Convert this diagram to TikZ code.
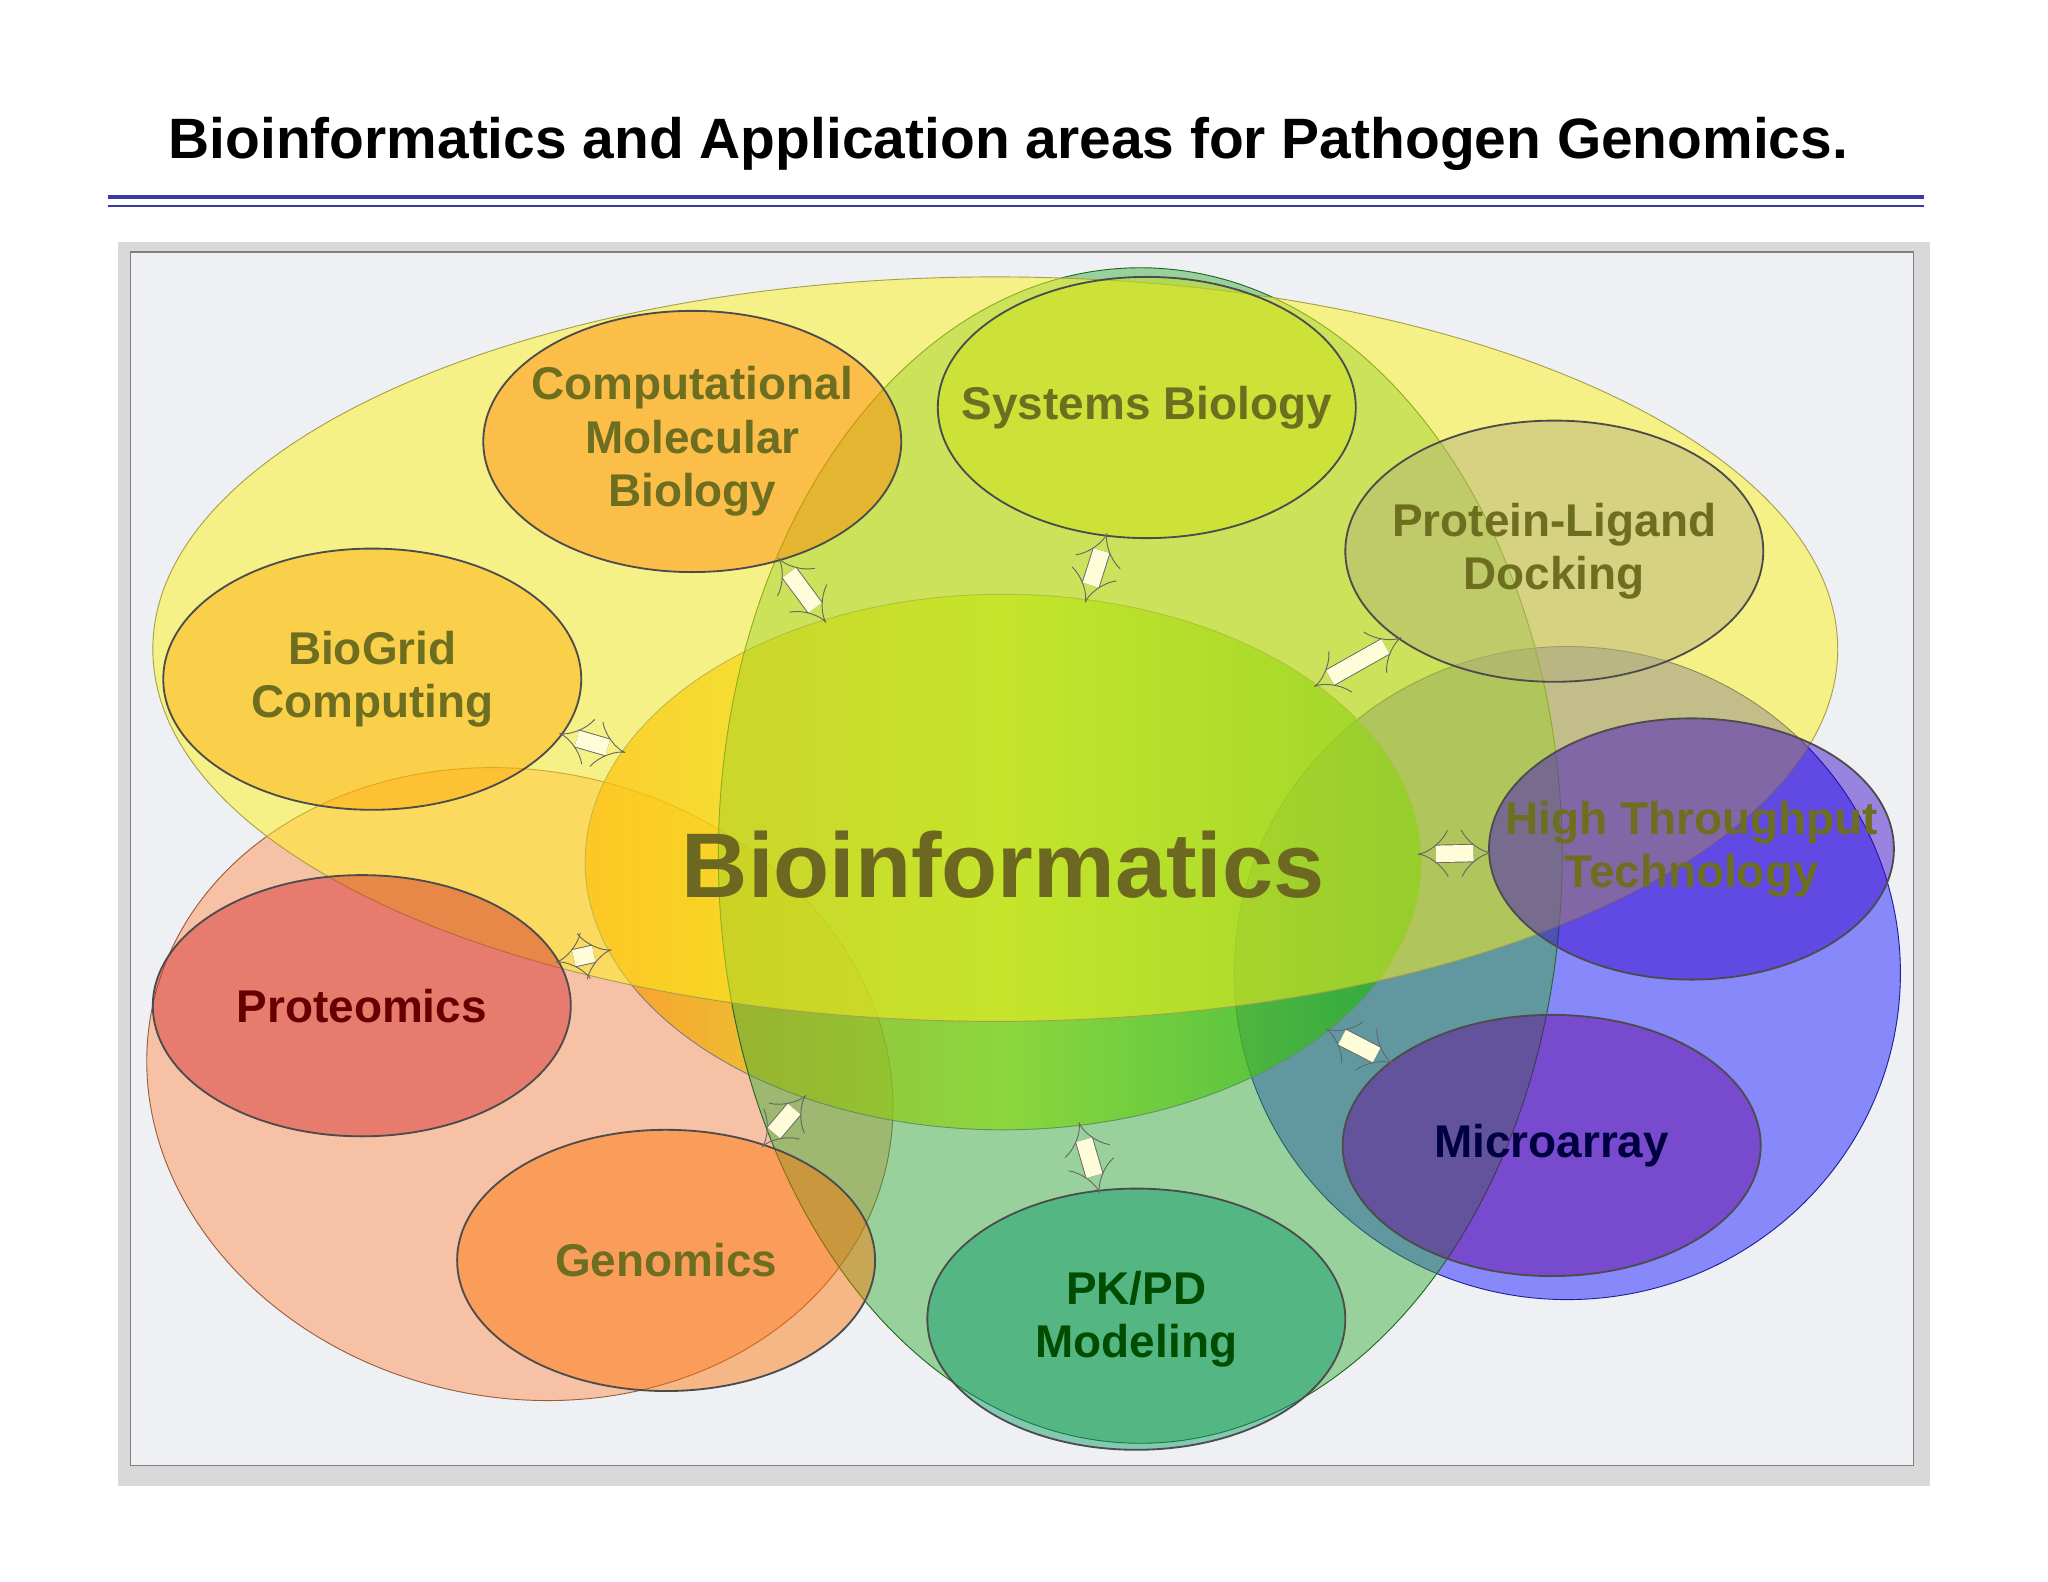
\documentclass[tikz,border=0pt]{standalone}
\usepackage{fontspec}
\setmainfont{Liberation Sans}
\usetikzlibrary{shapes.geometric,arrows.meta,shadows}
\definecolor{navy}{HTML}{3A3AA0}
\definecolor{olivetxt}{HTML}{6E6E20}
\definecolor{bgray}{HTML}{EEF0F3}
\colorlet{corb}{orange!70!red!60!white}
\colorlet{cblb}{blue!80}
\colorlet{cgrb}{green!60!black!80}
\colorlet{cylb}{yellow!90!white}
\newlength\pxu \setlength\pxu{0.5mm}
\tikzset{
  big/.style={ellipse,inner sep=0pt,draw=#1!60!black,line width=1pt,fill=#1,fill opacity=0.55},
  small/.style={ellipse,inner sep=0pt,minimum width=320\pxu,minimum height=200\pxu,draw=black!70,line width=2pt,
     fill=#1,fill opacity=0.45},
  lbl/.style={align=center,font=\fontsize{50}{58}\selectfont\bfseries,text=olivetxt},
  dbl/.style={draw=black!60,line width=1pt,double=white!85!yellow,double distance=18pt,{Implies}-{Implies},shorten >=-4pt,shorten <=-4pt}
}
\begin{document}
\begin{tikzpicture}[x=0.5mm,y=-0.5mm]
\useasboundingbox (0,0) rectangle (1568,1211);
\fill[white] (0,0) rectangle (1568,1211);
\node (title) at (772,110) {\fontsize{62}{66}\selectfont\bfseries Bioinformatics and Application areas for Pathogen Genomics.};
\draw[navy,line width=4pt] (83,151) -- (1473,151);
\draw[navy,line width=2pt] (83,157.5) -- (1473,157.5);
\fill[black!15] (90,185) rectangle (1478,1138);
\fill[bgray] (100,193) rectangle (1465,1122);
\draw[gray,line width=1.5pt] (100,193) rectangle (1465,1122);
% big regions
\node[big=corb,rotate=-12,minimum width=575\pxu,minimum height=480\pxu] (orb) at (398,830) {};
\node[big=cblb,minimum width=510\pxu,minimum height=500\pxu] (blb) at (1200,745) {};
% central
\node[ellipse,inner sep=0pt,minimum width=640\pxu,minimum height=410\pxu,draw=black!50,line width=1pt,
  left color=orange!90!yellow,right color=green!70!black,middle color=yellow!80!green,fill opacity=0.7] (bio) at (768,660) {};
\node[big=cgrb,fill opacity=0.45,minimum width=646\pxu,minimum height=900\pxu] (grb) at (873,655) {};
\node[big=cylb,fill opacity=0.5,minimum width=1290\pxu,minimum height=570\pxu] (ylb) at (762,497) {};
\node[font=\fontsize{100}{110}\selectfont\bfseries,text=olive!70!black] (biot) at (768,662) {Bioinformatics};
% small
\node[small=orange] (cmb) at (530,338) {};
\node[small=yellow!80!green] (sys) at (878,312) {};
\node[small=orange!70!yellow] (bgc) at (285,520) {};
\node[small=gray!70!yellow] (pld) at (1190,422) {};
\node[small=blue!60!violet,minimum width=310\pxu] (htt) at (1295,650) {};
\node[small=purple!70!orange] (pro) at (277,770) {};
\node[small=orange!90!red] (gen) at (510,965) {};
\node[small=teal!80!green] (pkp) at (870,1010) {};
\node[small=violet!80!blue] (mic) at (1188,877) {};
\node[lbl] (cmbt) at (cmb) {Computational\\Molecular\\Biology};
\node[lbl] (syst) at (sys) {Systems Biology};
\node[lbl] (bgct) at (bgc) {BioGrid\\Computing};
\node[lbl] (pldt) at (pld) {Protein-Ligand\\Docking};
\node[lbl] (httt) at (htt) {High Throughput\\Technology};
\node[lbl,text=red!40!black] (prot) at (pro) {Proteomics};
\node[lbl] (gent) at (gen) {Genomics};
\node[lbl,text=black!70!green] (pkpt) at (pkp) {PK/PD\\Modeling};
\node[lbl,text=blue!25!black] (mict) at (mic) {Microarray};
% arrows
\draw[dbl] (cmb) -- (bio);
\draw[dbl] (sys) -- (bio);
\draw[dbl] (bgc) -- (bio);
\draw[dbl] (pld) -- (bio);
\draw[dbl] (htt) -- (bio);
\draw[dbl] (pro) -- (bio);
\draw[dbl] (gen) -- (bio);
\draw[dbl] (pkp) -- (bio);
\draw[dbl] (mic) -- (bio);
\end{tikzpicture}
\end{document}
